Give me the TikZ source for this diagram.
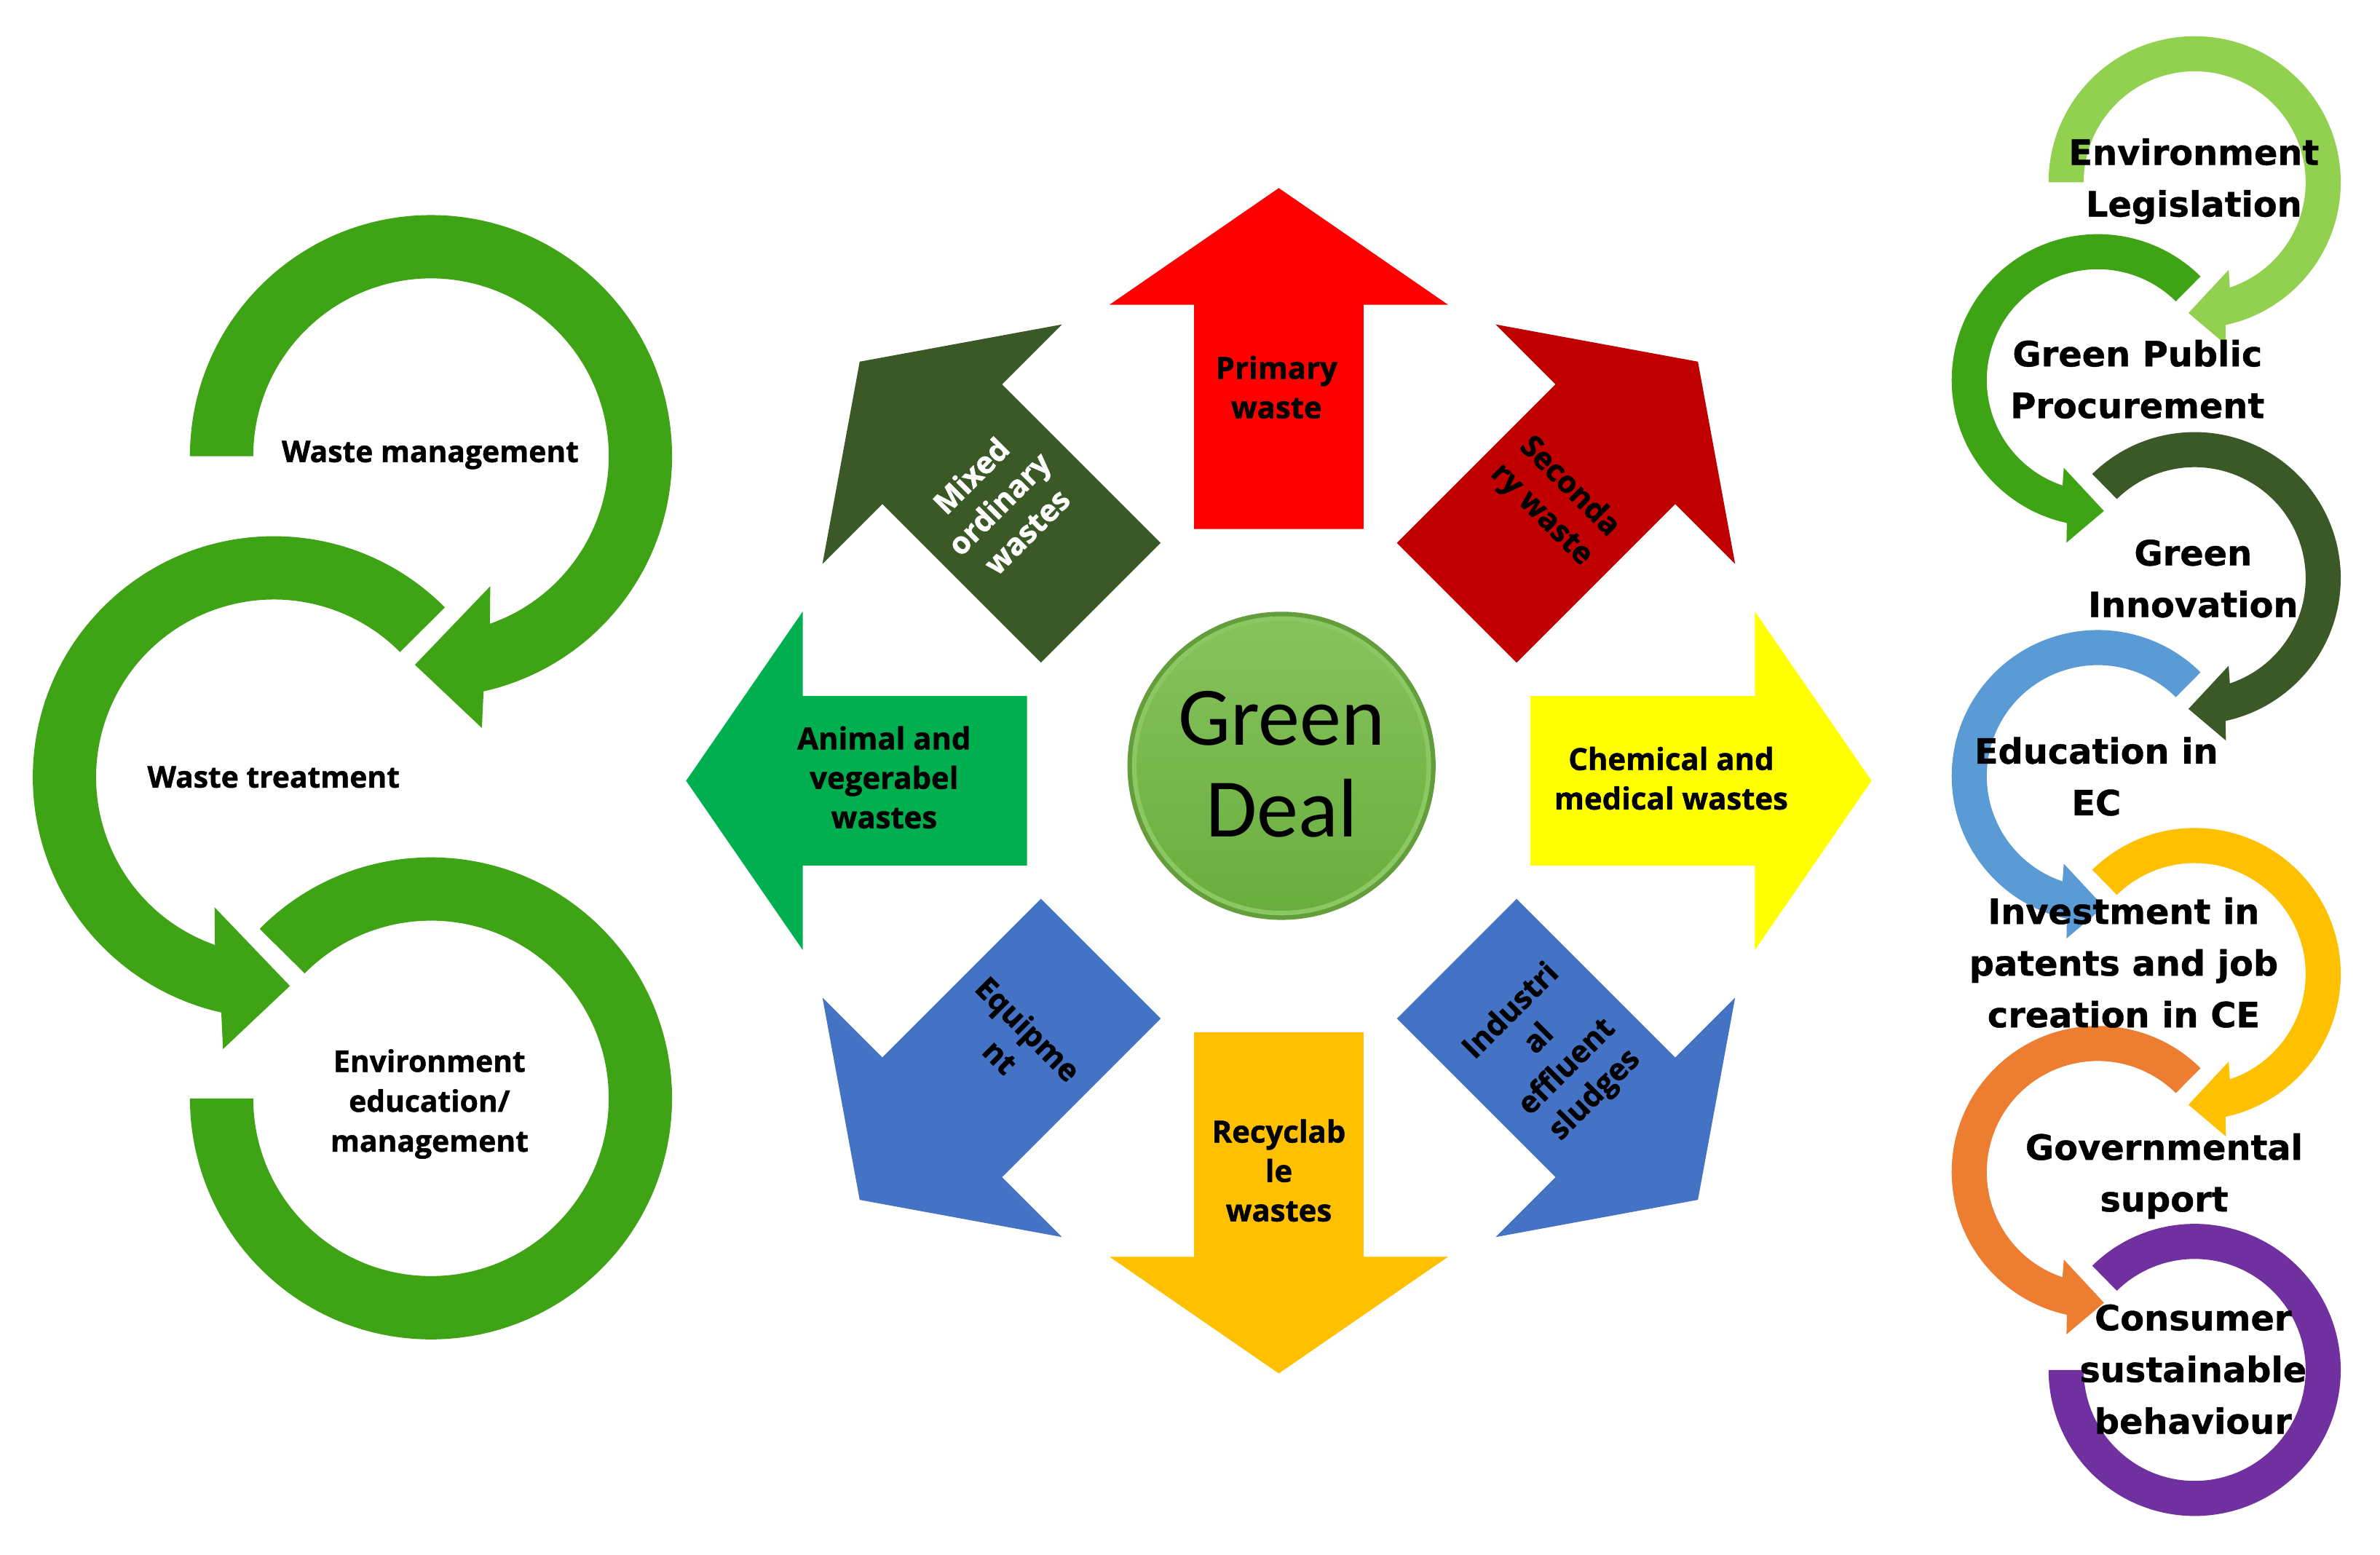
\documentclass[tikz,border=0pt]{standalone}
\usepackage{fontspec}
\usetikzlibrary{calc}
\newfontfamily\osans{Open Sans}[BoldFeatures={FakeBold=1.2}]
\newfontfamily\djv{DejaVu Sans}[BoldFeatures={FakeBold=0.8}]
\newfontfamily\carl{Carlito}
\definecolor{ringgreen}{RGB}{62,163,21}
\definecolor{clightgreen}{HTML}{92D050}
\definecolor{cdarkgreen}{RGB}{59,89,38}
\definecolor{cskyblue}{HTML}{5B9BD5}
\definecolor{camber}{HTML}{FFC000}
\definecolor{ctangerine}{HTML}{ED7D31}
\definecolor{cpurple}{HTML}{7030A0}
\definecolor{cred}{HTML}{FF0000}
\definecolor{cdarkred}{HTML}{C00000}
\definecolor{cyellow}{HTML}{FFFF00}
\definecolor{cblue}{HTML}{4472C4}
\definecolor{cgreen}{HTML}{00B050}
\definecolor{gdrim}{RGB}{100,158,60}
\definecolor{gdhigh}{RGB}{140,200,98}
\definecolor{gdtop}{RGB}{134,194,92}
\definecolor{gdbot}{RGB}{106,174,62}

\newcommand{\ringodd}[3]{%
  \fill[#2] ($(#1)+(#3:\rgRo)$) arc[start angle=#3, end angle=\rgNo, radius=\rgRo]
    -- ($(#1)+(\rgSoA:\rgSoR)$) -- ($(#1)+(\rgTA:\rgTR)$) -- ($(#1)+(\rgSiA:\rgSiR)$)
    -- ($(#1)+(\rgNi:\rgRi)$) arc[start angle=\rgNi, end angle=#3, radius=\rgRi] -- cycle;}
\newcommand{\ringeven}[3]{%
  \fill[#2] ($(#1)+(#3:\rgRo)$) arc[start angle=#3, end angle={180-(\rgNo)}, radius=\rgRo]
    -- ($(#1)+({180-(\rgSoA)}:\rgSoR)$) -- ($(#1)+({180-(\rgTA)}:\rgTR)$) -- ($(#1)+({180-(\rgSiA)}:\rgSiR)$)
    -- ($(#1)+({180-(\rgNi)}:\rgRi)$) arc[start angle={180-(\rgNi)}, end angle=#3, radius=\rgRi] -- cycle;}
\newcommand{\ringlast}[3]{%
  \fill[#2] ($(#1)+(#3:\rgRo)$) arc[start angle=#3, end angle=-180, radius=\rgRo]
    -- ($(#1)+(-180:\rgRi)$) arc[start angle=-180, end angle=#3, radius=\rgRi] -- cycle;}
\newcommand{\bigarrow}[2]{%
  \begin{scope}[shift={(C)}, rotate=#1]
    \fill[#2] (165,-55.5) -- (312,-55.5) -- (312,-111) -- (388.5,0) -- (312,111)
      -- (312,55.5) -- (165,55.5) -- cycle;
  \end{scope}}

\tikzset{
  wlab/.style={font=\osans\bfseries\fontsize{11.9}{15.4}\selectfont, align=center, inner sep=0pt},
  llab/.style={font=\osans\bfseries\fontsize{11.6}{15.6}\selectfont, align=center, inner sep=0pt},
  rlab/.style={font=\djv\bfseries\fontsize{13.6}{20.2}\selectfont, align=center, inner sep=0pt},
  gdlab/.style={font=\carl\fontsize{32.5}{36}\selectfont, align=center, inner sep=0pt},
}

\begin{document}
\begin{tikzpicture}[x=0.020955cm, y=0.020955cm]
\useasboundingbox (0,0) rectangle (1560,1019.3);
\fill[white] (0,0) rectangle (1560,1019.3);

% ---------------- left column ----------------
\def\rgRo{158}\def\rgRi{116.5}
\def\rgNo{-77.4}\def\rgSoR{181.3}\def\rgSoA{-79.4}
\def\rgTR{137.2}\def\rgTA{-94.4}\def\rgSiR{93.7}\def\rgSiA{-65.5}\def\rgNi{-70.65}
\coordinate (L1) at (282.5,720.3);
\coordinate (L2) at (179.5,509.8);
\coordinate (L3) at (282.5,299.3);
\ringodd{L1}{ringgreen}{180}
\ringeven{L2}{ringgreen}{44.8}
\ringlast{L3}{ringgreen}{135.3}
\node[llab] (wm) at (282,721) {Waste management};
\node[llab] (wt) at (179.3,509.9) {Waste treatment};
\node[llab] (eem) at (281.5,295.6) {Environment\\education/\\management};

% ---------------- central star ----------------
\coordinate (C) at (838.2,507.5);
\bigarrow{90}{cred}
\bigarrow{45}{cdarkred}
\bigarrow{0}{cyellow}
\bigarrow{-45}{cblue}
\bigarrow{-90}{camber}
\bigarrow{-135}{cblue}
\bigarrow{180}{cgreen}
\bigarrow{135}{cdarkgreen}

\coordinate (G) at (840,517.3);
\fill[gdrim] (G) circle (101);
\fill[gdhigh] (G) circle (98);
\shade[top color=gdtop, bottom color=gdbot] (G) circle (95);
\node[gdlab] (gd) at (840,518.3) {Green\\Deal};

\node[wlab] (primary) at (836.7,765.5) {Primary\\waste};
\node[wlab, rotate=-45] (second) at (1019.3,690.8) {Seconda\\ry waste};
\node[wlab] (chem) at (1095.4,509.1) {Chemical and\\medical wastes};
\node[wlab, rotate=45] (indus) at (1018.3,328.6) {Industri\\al\\effluent\\sludges};
\node[wlab] (recyc) at (838.2,252) {Recyclab\\le\\wastes};
\node[wlab, rotate=-45] (equip) at (664.9,335.8) {Equipme\\nt};
\node[wlab] (animal) at (579.5,509.7) {Animal and\\vegerabel\\wastes};
\node[wlab, rotate=45, text=white] (mixed) at (654.6,689.3) {Mixed\\ordinary\\wastes};

% ---------------- right column ----------------
\def\rgRo{95.75}\def\rgRi{72.75}
\def\rgNo{-77.8}\def\rgSoR{108.4}\def\rgSoA{-79.1}
\def\rgTR{85.8}\def\rgTA{-92.7}\def\rgSiR{61.6}\def\rgSiA{-68.8}\def\rgNi{-71.5}
\coordinate (R1) at (1438.5,899.8);
\coordinate (R2) at (1375,770.05);
\coordinate (R3) at (1438.5,640.3);
\coordinate (R4) at (1375,510.55);
\coordinate (R5) at (1438.5,380.8);
\coordinate (R6) at (1375,251.05);
\coordinate (R7) at (1438.5,121.3);
\ringodd{R1}{clightgreen}{180}
\ringeven{R2}{ringgreen}{45.3}
\ringodd{R3}{cdarkgreen}{134.5}
\ringeven{R4}{cskyblue}{45.3}
\ringodd{R5}{camber}{134.5}
\ringeven{R6}{ctangerine}{45.3}
\ringlast{R7}{cpurple}{134.5}

\node[rlab] (legis) at (1438,900.5) {Environment\\Legislation};
\node[rlab] (gpp) at (1401,770.7) {Green Public\\Procurement};
\node[rlab] (innov) at (1437.5,640) {Green\\Innovation};
\node[rlab] (educ) at (1374,510.3) {Education in\\EC};
\node[rlab] (invest) at (1392,388.3) {Investment in\\patents and job\\creation in CE};
\node[rlab] (gov) at (1418.5,248.4) {Governmental\\suport};
\node[rlab] (cons) at (1437.5,121.7) {Consumer\\sustainable\\behaviour};
\end{tikzpicture}
\end{document}
